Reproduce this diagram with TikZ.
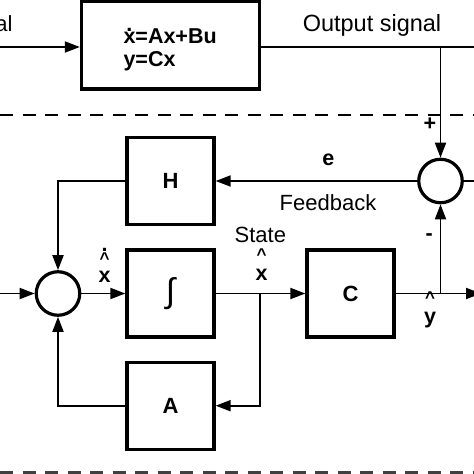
\documentclass[tikz,border=0pt]{standalone}
\usepackage{fontspec}
\setmainfont{Liberation Sans}
\usetikzlibrary{arrows.meta}
\newcommand{\dotx}{\ooalign{x\cr\hidewidth\raisebox{0.56em}{.}\hidewidth\cr}}
\newcommand{\hatof}[1]{\ooalign{#1\cr\hidewidth\raisebox{0.92em}{\fontsize{17}{20}\selectfont\textasciicircum}\hidewidth\cr}}
\newcommand{\dothatx}{\ooalign{x\cr\hidewidth\raisebox{0.84em}{\fontsize{17}{20}\selectfont\textasciicircum}\hidewidth\cr\hidewidth\raisebox{1.45em}{.}\hidewidth\cr}}
\begin{document}
\begin{tikzpicture}[x=1pt,y=-1pt,
  blk/.style={draw, line width=3.3pt, minimum width=87pt, minimum height=87pt, inner sep=0pt,
    font=\fontsize{22}{24}\selectfont\bfseries},
  sumc/.style={draw, circle, line width=3.2pt, minimum size=43.5pt, inner sep=0pt},
  wire/.style={line width=1.9pt},
  arr/.style={wire, -{Triangle[length=15pt,width=11pt]}},
  lbl/.style={font=\fontsize{22}{24}\selectfont, inner sep=0pt, anchor=base},
  blbl/.style={font=\fontsize{21.5}{24}\selectfont\bfseries, inner sep=0pt},
  sepline/.style={line width=2.2pt, dash pattern=on 13pt off 9.5pt},
]
\useasboundingbox (0,0) rectangle (474,474);

% separators
\coordinate (d1L) at (0,115);   \coordinate (d1R) at (474,115);
\coordinate (d2L) at (0,472.5); \coordinate (d2R) at (474,472.5);
\draw[sepline] (d1L) -- (d1R);
\draw[sepline, black!75] (d2L) -- (d2R);

% plant
\node[blk, minimum width=178pt, minimum height=87.5pt] (sys) at (170.5,45.3) {};
\node[blbl, anchor=base west] (eq1) at (123.3,43.3) {\dotx=Ax+Bu};
\node[blbl, anchor=base west] (eq2) at (123.3,66.7) {y=Cx};

% observer blocks
\node[blk] (H) at (170.5,181) {H};
\node[blk] (I) at (170.5,293.5) {\raisebox{4pt}{\fontsize{34}{34}\selectfont\mdseries ∫}};
\node[blk] (A) at (170.5,405.7) {A};
\node[blk] (C) at (350.5,293.5) {C};

\node[sumc] (S1) at (58,293.5) {};
\node[sumc] (S2) at (440.5,181) {};

% coordinates
\coordinate (inL) at (0,47);
\coordinate (outR) at (474,47);
\coordinate (tap1) at (440.5,47);
\coordinate (e2R) at (474,181);
\coordinate (inM) at (0,293.5);
\coordinate (br1) at (260,293.5);
\coordinate (br2) at (440.5,293.5);
\coordinate (outM) at (481,293.5);

% connectors
\draw[arr] (inL) -- (inL -| sys.west);
\draw[wire] (outR -| sys.east) -- (outR);
\draw[arr] (tap1) -- (S2.north);
\draw[wire] (S2.east) -- (e2R);
\draw[arr] (S2.west) -- (H.east);
\draw[arr] (H.west) -| (S1.north);
\draw[arr] (inM) -- (S1.west);
\draw[arr] (S1.east) -- (I.west);
\draw[arr] (I.east) -- (C.west);
\draw[arr] (br1) |- (A.east);
\draw[arr] (A.west) -| (S1.south);
\draw[arr] (C.east) -- (outM);
\draw[arr] (br2) -- (S2.south);

% labels
\node[lbl, anchor=base east] (inlab) at (12.7,31) {al};
\node[lbl, font=\fontsize{23.5}{26}\selectfont] (outlab) at (372,31.7) {Output signal};
\node[blbl] (elab) at (328.3,159.5) {e};
\node[lbl] (fblab) at (328,210) {Feedback};
\node[lbl] (stlab) at (260.3,242) {State};
\node[blbl] (plus) at (430,124.5) {+};
\node[blbl] (minus) at (429.3,237) {-};

\node[blbl, anchor=base] (xdh) at (104.5,282.6) {\dothatx};
\node[blbl, anchor=base] (xh) at (261.5,280.5) {\hatof{x}};
\node[blbl, anchor=base] (yh) at (430,323.5) {\hatof{y}};
\end{tikzpicture}
\end{document}
